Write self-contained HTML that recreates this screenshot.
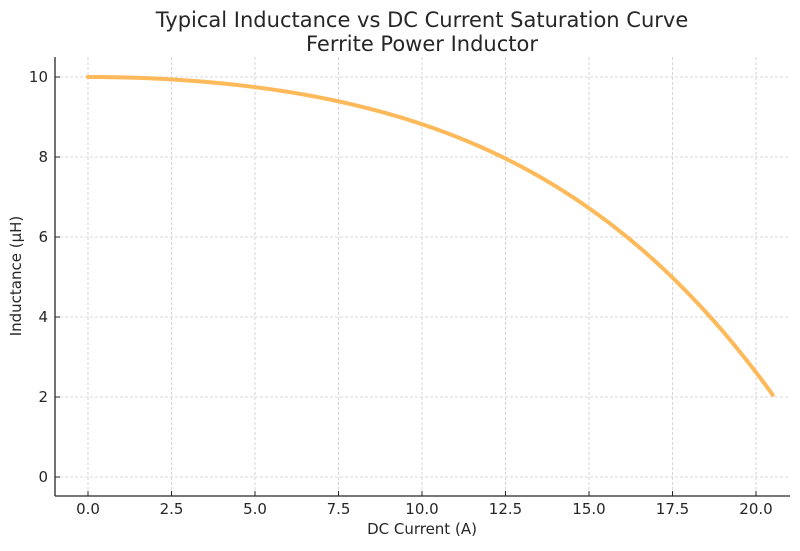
<!DOCTYPE html>
<html><head><meta charset="utf-8"><style>
body{margin:0;background:#fff;}
svg text{font-family:"DejaVu Sans","Liberation Sans",sans-serif;fill:#262626;}
</style></head><body>
<svg id="s" width="800" height="546" xmlns="http://www.w3.org/2000/svg">
<text x="422" y="27" font-size="21" text-anchor="middle">Typical Inductance vs DC Current Saturation Curve</text>
<text x="422" y="51" font-size="21" text-anchor="middle">Ferrite Power Inductor</text>
<g id="grid" stroke="#cccccc" stroke-width="0.8" stroke-dasharray="3,2"></g>
<g id="ticks" stroke="#262626" stroke-width="1"></g>
<g id="labels" font-size="15"></g>
<path id="curve" fill="none" stroke="#fdb95a" stroke-width="4" stroke-linecap="round"/>
<line x1="55" y1="57" x2="55" y2="496" stroke="#262626" stroke-width="1.3"/>
<line x1="55" y1="496" x2="790" y2="496" stroke="#262626" stroke-width="1.3"/>
<text x="422" y="534" font-size="15" text-anchor="middle">DC Current (A)</text>
<text transform="translate(21,276) rotate(-90)" font-size="15" text-anchor="middle">Inductance (µH)</text>
</svg>
<script>
var X=function(i){return 88+i*33.4;},Y=function(l){return 477-l*40;};
var g=document.getElementById('grid'),t=document.getElementById('ticks'),lb=document.getElementById('labels'),ns='http://www.w3.org/2000/svg';
function el(p,n,a,txt){var e=document.createElementNS(ns,n);for(var k in a)e.setAttribute(k,a[k]);if(txt)e.textContent=txt;p.appendChild(e);}
for(var i=0;i<=8;i++){var x=X(i*2.5);el(g,'line',{x1:x,y1:57,x2:x,y2:496});el(t,'line',{x1:x,y1:496,x2:x,y2:491});el(lb,'text',{x:x,y:514,'text-anchor':'middle'},(i*2.5).toFixed(1));}
for(var j=0;j<=5;j++){var y=Y(j*2);el(g,'line',{x1:55,y1:y,x2:790,y2:y});el(t,'line',{x1:55,y1:y,x2:60,y2:y});el(lb,'text',{x:48,y:y+5,'text-anchor':'end'},String(j*2));}
var d='';
for(var k=0;k<=200;k++){var I=20.5*k/200;var L=10-0.00958*I*I-2.22e-5*Math.pow(I,4);d+=(k?'L':'M')+X(I).toFixed(2)+','+Y(L).toFixed(2);}
document.getElementById('curve').setAttribute('d',d);
</script>
</body></html>
